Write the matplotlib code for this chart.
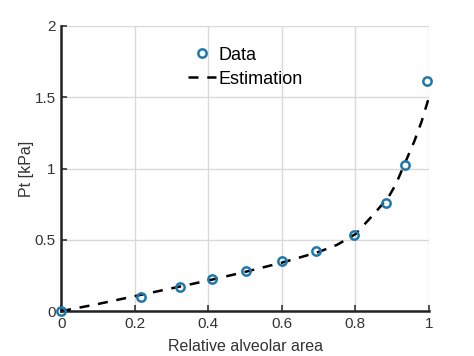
import numpy as np
import matplotlib
matplotlib.use('Agg')
import matplotlib.pyplot as plt

area_data = [0.0, 0.218, 0.323, 0.411, 0.502, 0.600, 0.692, 0.797, 0.883, 0.935, 0.994]
pt_data = [0.0, 0.098, 0.169, 0.227, 0.283, 0.349, 0.422, 0.532, 0.759, 1.028, 1.616]

# fitted curve
area_est = [0.0, 0.1, 0.2, 0.3, 0.4, 0.5, 0.6, 0.7, 0.75, 0.8, 0.85, 0.89, 0.91, 0.94, 0.96, 0.98, 1.0]
pt_est = [0.0, 0.05, 0.105, 0.16, 0.215, 0.275, 0.34, 0.415, 0.465, 0.54, 0.68, 0.80, 0.89, 1.07, 1.19, 1.33, 1.50]

xticks = [0, 0.2, 0.4, 0.6, 0.8, 1]
xticklabels = ['0', '0.2', '0.4', '0.6', '0.8', '1']
yticks = [0, 0.5, 1, 1.5, 2]
yticklabels = ['0', '0.5', '1', '1.5', '2']

plt.rcParams['font.family'] = ['Liberation Sans', 'DejaVu Sans']

fig = plt.figure(figsize=(4.74, 3.56), dpi=100)
ax = fig.add_axes([0.129, 0.126, 0.776, 0.801])

ax.plot(area_data, pt_data, 'o', color='#1f78aa', mfc='none', mew=1.8, ms=6,
        label='Data', clip_on=False, zorder=4)
ax.plot(area_est, pt_est, '--', color='black', lw=1.8, dashes=(4, 3.5),
        label='Estimation', zorder=3)

ax.set_xlim(0, 1)
ax.set_ylim(0, 2)
ax.set_xticks(xticks)
ax.set_xticklabels(xticklabels)
ax.set_yticks(yticks)
ax.set_yticklabels(yticklabels)
ax.grid(True, color='#d9d9d9', lw=1.0)
ax.set_axisbelow(True)

for s in ['top', 'right']:
    ax.spines[s].set_visible(False)
for s in ['left', 'bottom']:
    ax.spines[s].set_linewidth(1.8)
    ax.spines[s].set_color('#222222')

ax.tick_params(direction='in', length=4, width=1.2, labelsize=11,
               colors='#333333', pad=4)
ax.set_xlabel('Relative alveolar area', fontsize=11.5, color='#333333', labelpad=6)
ax.set_ylabel('Pt [kPa]', fontsize=11.5, color='#333333', labelpad=0)

ax.legend(loc='upper center', bbox_to_anchor=(0.5, 0.985), frameon=False,
          fontsize=13, handlelength=1.6, handletextpad=0.1, labelspacing=0.4)

fig.savefig('out.png', dpi=100)
